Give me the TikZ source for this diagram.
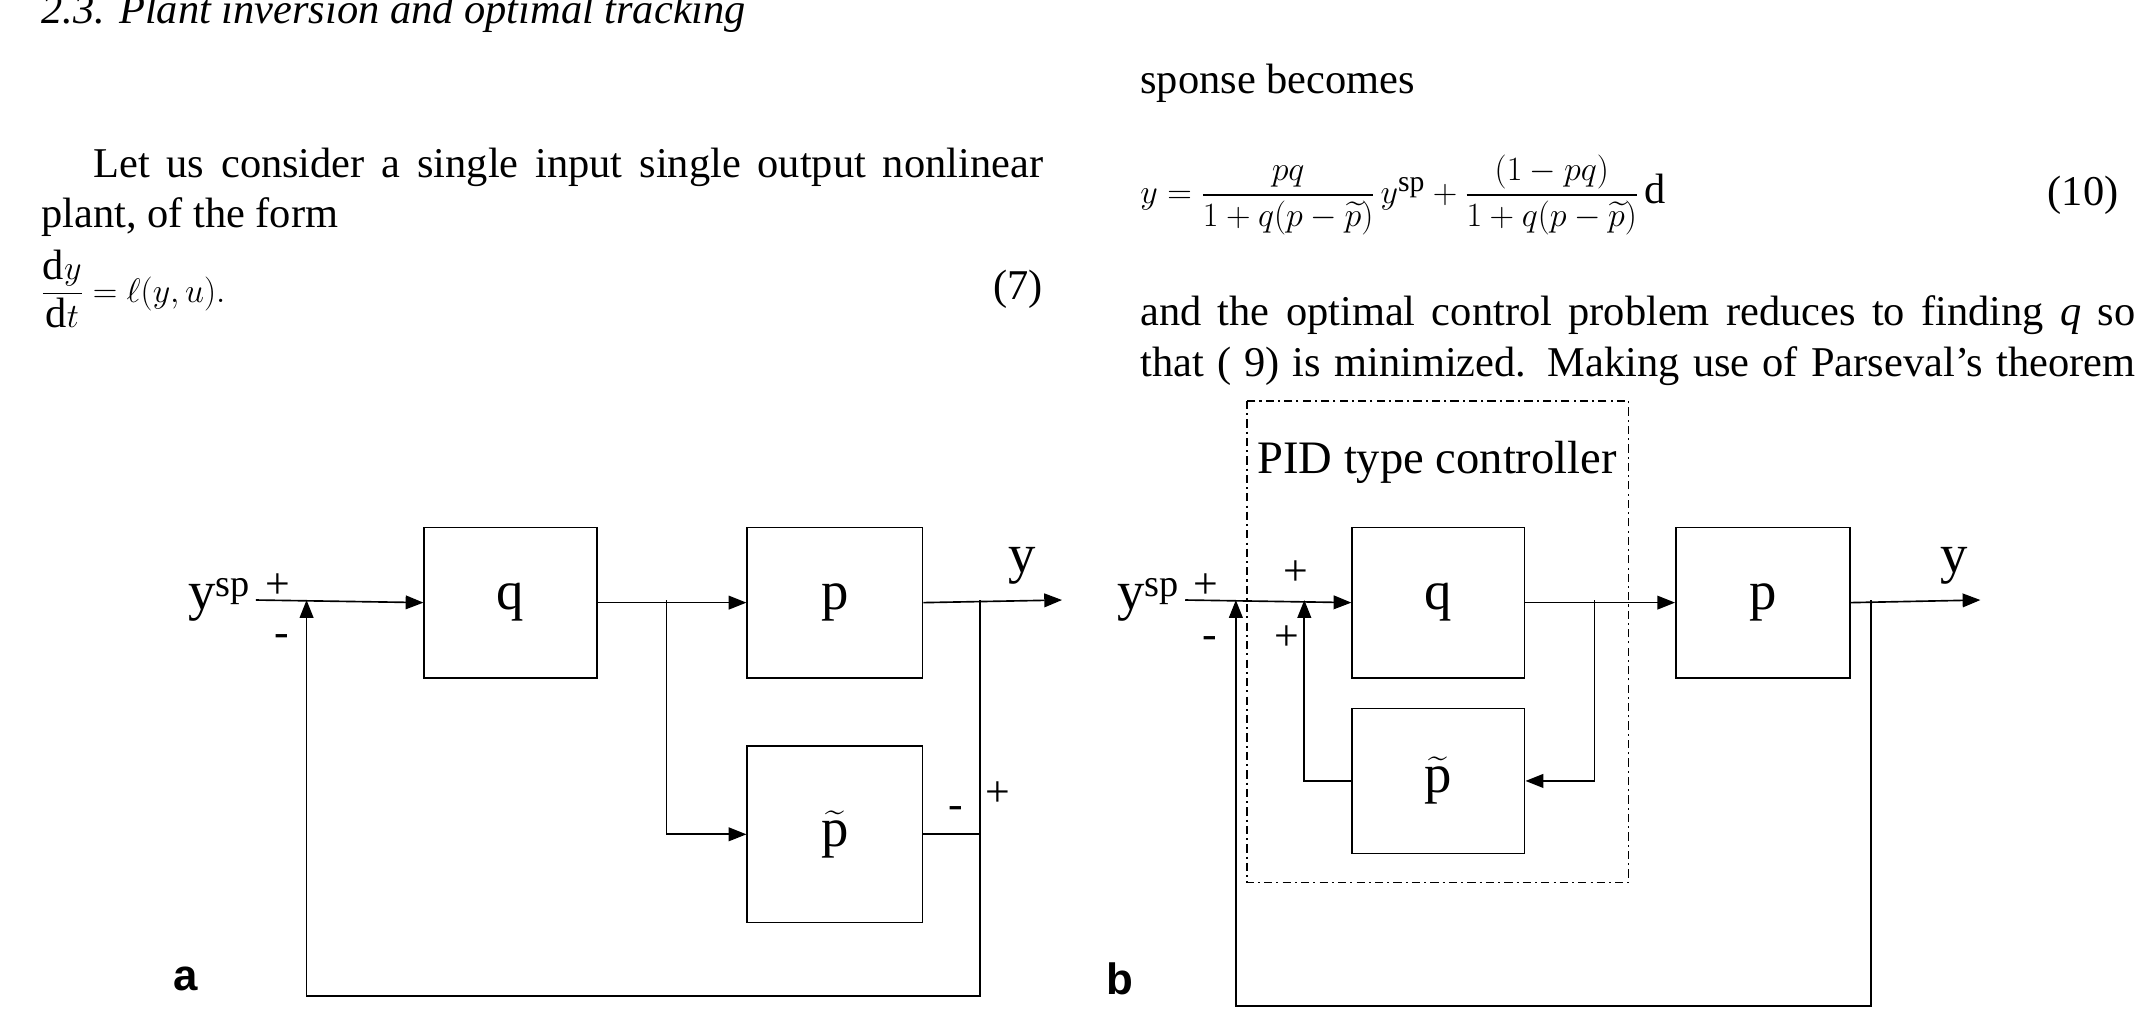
\documentclass[tikz,border=0pt]{standalone}
\usepackage{amsmath}
\usepackage{fontspec}
\setmainfont{Liberation Serif}
\setsansfont{Liberation Sans}
\usetikzlibrary{arrows.meta}
\begin{document}
\begin{tikzpicture}[x=1pt,y=-0.951pt,
  box/.style={draw,line width=1.2pt,inner sep=0pt,font=\fontsize{40}{44}\selectfont},
  ln/.style={line width=1.2pt},
  arr/.style={ln,-{Triangle[length=13pt,width=10pt]}},
  sg/.style={font=\fontsize{32}{34}\selectfont,inner sep=0pt},
  lbl/.style={font=\fontsize{40}{44}\selectfont,inner sep=0pt},
  txt/.style={font=\fontsize{31}{34}\selectfont,inner sep=0pt,anchor=base west},
  tag/.style={font=\fontsize{31}{34}\selectfont,inner sep=0pt,anchor=east},
  fig/.style={font=\fontsize{32}{34}\sffamily\bfseries\selectfont,inner sep=0pt}]
\useasboundingbox (0,0) rectangle (1568,780);
% text
\node[txt] (h) at (30,18) {\itshape 2.3. Plant inversion and optimal tracking};
\node[txt] (l1) at (68,136) {\makebox[694pt][s]{Let us consider a single input single output nonlinear}};
\node[txt] (l2) at (30,175) {plant, of the form};
\node[inner sep=0pt,anchor=west,font=\fontsize{31}{34}\selectfont] (e7) at (30,222) {$\dfrac{\mathrm{d}y}{\mathrm{d}t}=\ell(y,u).$};
\node[tag] (t7) at (762,222) {(7)};
\node[txt] (r1) at (833,72) {sponse becomes};
\node[inner sep=0pt,anchor=west,font=\fontsize{31}{34}\selectfont] (e10) at (833,150) {$y=\dfrac{pq}{1+q(p-\widetilde{p})}\,y^{\mathrm{sp}}+\dfrac{(1-pq)}{1+q(p-\widetilde{p})}\,\mathrm{d}$};
\node[tag] (t10) at (1548,150) {(10)};
\node[txt] (r2) at (833,250) {\makebox[727pt][s]{and the optimal control problem reduces to finding \textit{q} so}};
\node[txt] (r3) at (833,289) {\makebox[727pt][s]{that ( 9) is minimized. Making use of Parseval’s theorem}};
% diagram a
\node[box,minimum width=126pt,minimum height=110pt] (qa) at (373,463) {q};
\node[box,minimum width=128pt,minimum height=110pt] (pa) at (610,463) {p};
\node[box,minimum width=128pt,minimum height=129pt] (pta) at (610,641) {$\widetilde{\mathrm{p}}$};
\node[lbl,anchor=east] (yspa) at (183,461) {y$^{\text{sp}}$};
\coordinate (sa) at (187,461);
\coordinate (ja) at (224,461);
\coordinate (ba) at (487,461);
\coordinate (ca) at (716,461);
\coordinate (oa) at (776,461);
\coordinate (fa) at (716,765);
\draw[arr] (sa) -- (qa.west);
\draw[arr] (qa.east) -- (pa.west);
\draw[arr] (ba) |- (pta.west);
\draw[arr] (pa.east) -- (oa);
\draw[ln] (pta.east) -- (pta.east -| ca);
\draw[arr] (ca) -- (fa) -| (ja);
\node[lbl] (ya) at (747,435) {y};
\node[sg] (pa1) at (203,450) {+};
\node[sg] (ma1) at (206,492) {-};
\node[sg] (ma2) at (698,624) {-};
\node[sg] (pa2) at (729,610) {+};
\node[fig] (la) at (136,752) {a};
% diagram b
\draw[line width=1pt,dash pattern=on 6pt off 3pt on 1.5pt off 3pt] (911,308) rectangle (1190,678);
\node[font=\fontsize{34}{36}\selectfont,inner sep=0pt] (pid) at (1050,355) {PID type controller};
\node[box,minimum width=126pt,minimum height=110pt] (qb) at (1051,463) {q};
\node[box,minimum width=127pt,minimum height=110pt] (pb) at (1288,463) {p};
\node[box,minimum width=126pt,minimum height=106pt] (ptb) at (1051,600) {$\widetilde{\mathrm{p}}$};
\node[lbl,anchor=east] (yspb) at (862,461) {y$^{\text{sp}}$};
\coordinate (sb) at (866,461);
\coordinate (j1) at (903,461);
\coordinate (j2) at (953,461);
\coordinate (bb) at (1165,461);
\coordinate (cb) at (1367,461);
\coordinate (ob) at (1447,461);
\coordinate (fb) at (1367,773);
\draw[arr] (sb) -- (qb.west);
\draw[arr] (ptb.west) -| (j2);
\draw[arr] (qb.east) -- (pb.west);
\draw[arr] (bb) |- (ptb.east);
\draw[arr] (pb.east) -- (ob);
\draw[arr] (cb) -- (fb) -| (j1);
\node[lbl] (yb) at (1428,435) {y};
\node[sg] (pb1) at (881,450) {+};
\node[sg] (mb1) at (884,494) {-};
\node[sg] (pb2) at (947,440) {+};
\node[sg] (pb3) at (940,490) {+};
\node[fig] (lb) at (818,752) {b};
\end{tikzpicture}
\end{document}
